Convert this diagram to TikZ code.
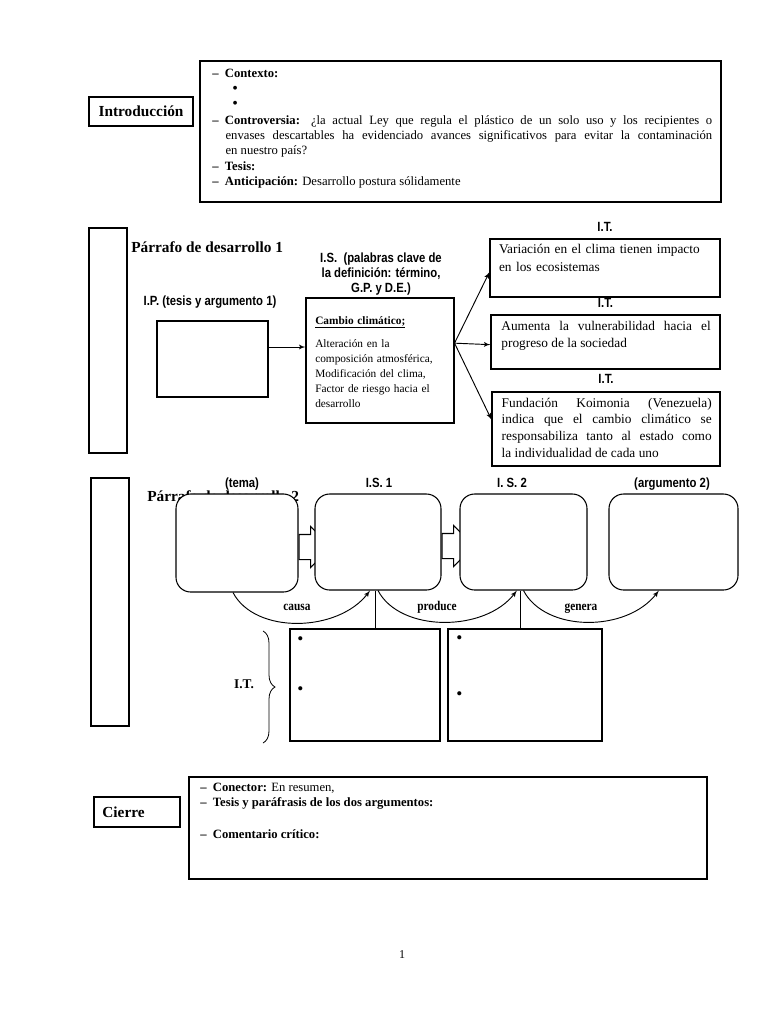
\documentclass[tikz,border=0pt]{standalone}
\usepackage{fontspec}
\setmainfont{Liberation Serif}
\setsansfont{Liberation Sans}
\newfontfamily\narrowsans[FakeStretch=0.85]{Liberation Sans}
\newfontfamily\narrowserif[FakeStretch=0.85]{Liberation Serif}
\usepackage{tikz}
\usetikzlibrary{shapes,arrows,positioning,decorations.pathreplacing}
\hyphenpenalty=10000

\begin{document}
\begin{tikzpicture}[x=0.75pt,y=-0.75pt]
				\tikzstyle{common} = [draw, inner sep=0, line width=0.8pt]
				\tikzstyle{block} = [rectangle, common]
				\tikzstyle{rblock} = [rectangle, rounded corners=11pt, common, fill=white]
				\tikzstyle{bar} = [block, minimum width=28.5pt]
				\tikzstyle{blockarrow} = [single arrow, common, fill=white, anchor=west, inner ysep=9pt, minimum height=24pt, single arrow head extend=6pt]
				\tikzstyle{sanstag} = [font=\narrowsans\bfseries\fontsize{10}{11.25}\selectfont, inner sep=0, align=center]
				\tikzstyle{boldtitle} = [font=\bfseries\fontsize{11.5}{13}\selectfont, inner sep=0]
				\tikzstyle{linktag} = [font=\narrowserif\bfseries\fontsize{10}{11}\selectfont, inner sep=0, anchor=base]
				\tikzstyle{dot} = [inner sep=0, font=\fontsize{13}{13}\selectfont]
				\tikzstyle{txt} = [inner sep=0, anchor=north west, align=justify]
				\tikzstyle{line} = [draw, line width=0.7pt, -latex']
				\useasboundingbox (0,0) rectangle (768,1024);

				% introduccion
				\node[block, minimum width=390.75pt, minimum height=105.75pt] (intro) at (460.5,131.5) {};
				\node[block, boldtitle, minimum width=78pt, minimum height=21.75pt] (introlabel) at (141,111.5) {Introducción};
				\node[txt, text width=375pt, font=\fontsize{9.5}{11.6}\selectfont] (introtext) at (212,69) {\parindent=0pt
					\textbf{--\enspace Contexto:}\par
					\hspace*{15pt}{\fontsize{12}{11.6}\selectfont\textbullet}\par
					\hspace*{15pt}{\fontsize{12}{11.6}\selectfont\textbullet}\par
					\hangindent=10pt\hangafter=1 \textbf{--\enspace Controversia:} ¿la actual Ley que regula el plástico de un solo uso y los recipientes o\linebreak envases descartables ha evidenciado avances significativos para evitar la contaminación\linebreak en nuestro país?\par
					\textbf{--\enspace Tesis:}\par
					\textbf{--\enspace Anticipación:} Desarrollo postura sólidamente};

				% parrafo 1
				\node[bar, minimum height=168.75pt] (bar1) at (108,340.5) {};
				\node[boldtitle, anchor=west] (p1title) at (131,247) {Párrafo de desarrollo 1};
				\node[sanstag] (istag) at (381,274) {I.S.\ \ (palabras clave de\\la definición: término,\\G.P. y D.E.)};
				\node[sanstag] (iptag) at (210,302) {I.P. (tesis y argumento 1)};
				\node[block, minimum width=83.25pt, minimum height=57pt] (ip) at (212.5,359) {};
				\node[block, minimum width=111pt, minimum height=93.75pt] (cambio) at (380,360.5) {};
				\node[txt, text width=104pt, align=left, font=\fontsize{8.5}{11.25}\selectfont] (cambiotext) at (315,316) {\underline{\textbf{Cambio climático;}}\\[6pt]Alteración en la\\composición atmosférica,\\Modificación del clima,\\Factor de riesgo hacia el\\desarrollo};
				\node[block, minimum width=172.5pt, minimum height=43.5pt] (t1) at (605,268) {};
				\node[block, minimum width=171.75pt, minimum height=40.5pt] (t2) at (605.5,342) {};
				\node[block, minimum width=171pt, minimum height=55.5pt] (t3) at (606,429) {};
				\node[sanstag, above=5pt of t1] (it1) {I.T.};
				\node[sanstag, above=5pt of t2] (it2) {I.T.};
				\node[sanstag, above=6pt of t3] (it3) {I.T.};
				\node[txt, text width=160pt, align=left, font=\fontsize{10}{13.5}\selectfont] (t1text) at ([xshift=7pt,yshift=-4pt]t1.north west) {Variación en el clima tienen impacto\\en los ecosistemas};
				\node[txt, text width=157pt, font=\fontsize{10}{12.75}\selectfont] (t2text) at ([xshift=8pt,yshift=-5pt]t2.north west) {Aumenta la vulnerabilidad hacia el\linebreak progreso de la sociedad};
				\node[txt, text width=157.5pt, font=\fontsize{10}{12.5}\selectfont] (t3text) at ([xshift=7.5pt,yshift=-4.5pt]t3.north west) {Fundación Koimonia (Venezuela)\linebreak indica que el cambio climático se\linebreak responsabiliza tanto al estado como\linebreak la individualidad de cada uno};
				\coordinate (fan) at ([yshift=13pt]cambio.east);
				\draw[line] ([yshift=9pt]ip.east) -- ([yshift=9pt]ip.east -| cambio.west);
				\draw[line] (fan) -- ([yshift=-3pt]t1.west);
				\draw[line] (fan) -- ([yshift=-2pt]t2.west);
				\draw[line] (fan) -- ([yshift=7pt]t3.west);

				% parrafo 2
				\node[bar, minimum height=186pt] (bar2) at (110,602) {};
				\node[boldtitle, anchor=west] (p2title) at (147,496) {Párrafo de desarrollo 2};
				\node[rblock, minimum width=91.5pt, minimum height=73.5pt] (r1) at (237,543) {};
				\node[blockarrow] (a1) at ([yshift=-3pt]r1.east) {};
				\node[rblock, minimum width=94.5pt, minimum height=72pt] (r2) at (378,542) {};
				\node[blockarrow] (a2) at ([yshift=-3pt]r2.east) {};
				\node[rblock, minimum width=95.25pt, minimum height=72pt] (r3) at (523.5,542) {};
				\node[rblock, minimum width=96.75pt, minimum height=72pt] (r4) at (673.5,542) {};
				\node[sanstag] (tema) at (242,484) {(tema)};
				\node[sanstag] (is1) at (379,483) {I.S. 1};
				\node[sanstag] (is2) at (512,483) {I. S. 2};
				\node[sanstag] (arg2) at (672,484) {(argumento 2)};
				\draw[line] ([xshift=-3pt]r1.south) .. controls +(22,42) and +(-32,42) .. ([xshift=-6pt]r2.south);
				\draw[line] (r2.south) .. controls +(22,42) and +(-32,42) .. ([xshift=-5pt]r3.south);
				\draw[line] (r3.south) .. controls +(22,42) and +(-32,42) .. ([xshift=-11pt]r4.south);
				\node[linktag] (causa) at (297,610) {causa};
				\node[linktag] (produce) at (437,610) {produce};
				\node[linktag] (genera) at (581,610) {genera};
				\node[block, minimum width=112.5pt, minimum height=84pt] (b1) at (365,685) {};
				\node[block, minimum width=115.5pt, minimum height=84pt] (b2) at (525,685) {};
				\draw[line width=0.7pt] ([xshift=-2pt]r2.south) -- ([xshift=-2pt]r2.south |- b1.north);
				\draw[line width=0.7pt] ([xshift=-2pt]r3.south) -- ([xshift=-2pt]r3.south |- b2.north);
				\node[dot] (b1a) at ([xshift=8.25pt,yshift=-9pt]b1.north west) {\textbullet};
				\node[dot] (b1b) at ([xshift=8.25pt,yshift=-46.5pt]b1.north west) {\textbullet};
				\node[dot] (b2a) at ([xshift=9pt,yshift=-8.25pt]b2.north west) {\textbullet};
				\node[dot] (b2b) at ([xshift=9pt,yshift=-50.25pt]b2.north west) {\textbullet};
				\draw[line width=0.6pt, decorate, decoration={brace, amplitude=9pt}] (263,631) -- (263,743);
				\node[boldtitle, font=\bfseries\fontsize{10}{12}\selectfont] (ittag) at (244,684) {I.T.};

				% cierre
				\node[block, minimum width=388.5pt, minimum height=76.5pt] (cierre) at (448,828) {};
				\node[block, minimum width=64.5pt, minimum height=22.5pt] (cierrelabel) at (137,812) {};
				\node[boldtitle, anchor=west] (cierretag) at ([xshift=6.5pt]cierrelabel.west) {Cierre};
				\node[txt, align=left, font=\fontsize{9.5}{11.5}\selectfont] (cierretext) at (200,783) {\textbf{--\enspace Conector:} En resumen,\\\textbf{--\enspace Tesis y paráfrasis de los dos argumentos:}\\[12.5pt]\textbf{--\enspace Comentario crítico:}};

				\node[inner sep=0, font=\fontsize{9}{11}\selectfont] (pagenum) at (402,955) {1};
			\end{tikzpicture}
\end{document}
